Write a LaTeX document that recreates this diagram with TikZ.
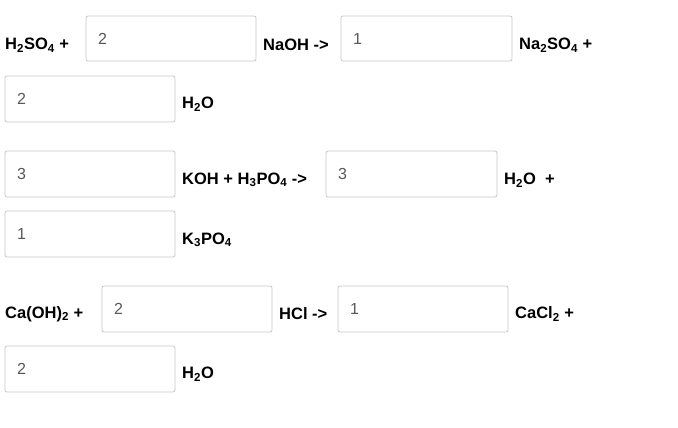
\documentclass[tikz,border=0pt]{standalone}
\usepackage{fontspec}
\setmainfont{Liberation Sans}
\begin{document}
\begin{tikzpicture}[x=1pt,y=-1pt,
  inbox/.style={draw=black!22,line width=0.8pt,rounded corners=2pt},
  num/.style={anchor=west,inner sep=0pt,text=black!65,font=\fontsize{16}{18}\selectfont},
  lab/.style={anchor=west,inner sep=0pt,font=\bfseries\fontsize{16.5}{19}\selectfont}]
\useasboundingbox[fill=white] (0,0) rectangle (678,428);
% row 1
\node[lab] (l1) at (5,45) {H\textsubscript{2}SO\textsubscript{4} +};
\draw[inbox] (86,16) rectangle (256,61);
\node[num] (n1) at (98,39) {2};
\node[lab] (l2) at (263,45) {NaOH ->};
\draw[inbox] (341,16) rectangle (512,61);
\node[num] (n2) at (353,39) {1};
\node[lab] (l3) at (519,45) {Na\textsubscript{2}SO\textsubscript{4} +};
% row 2
\draw[inbox] (5,76) rectangle (175,122);
\node[num] (n3) at (17,99) {2};
\node[lab] (l4) at (182,104) {H\textsubscript{2}O};
% row 3
\draw[inbox] (5,151) rectangle (175,197);
\node[num] (n4) at (17,174) {3};
\node[lab] (l5) at (182,180) {KOH + H\textsubscript{3}PO\textsubscript{4} ->};
\draw[inbox] (326,151) rectangle (497,197);
\node[num] (n5) at (338,174) {3};
\node[lab] (l6) at (504,180) {H\textsubscript{2}O\ \ +};
% row 4
\draw[inbox] (5,211) rectangle (175,257);
\node[num] (n6) at (17,234) {1};
\node[lab] (l7) at (182,240) {K\textsubscript{3}PO\textsubscript{4}};
% row 5
\node[lab] (l8) at (5,314) {Ca(OH)\textsubscript{2} +};
\draw[inbox] (102,286) rectangle (272,332);
\node[num] (n7) at (114,309) {2};
\node[lab] (l9) at (279,314) {HCl ->};
\draw[inbox] (338,286) rectangle (508,332);
\node[num] (n8) at (350,309) {1};
\node[lab] (l10) at (515,314) {CaCl\textsubscript{2} +};
% row 6
\draw[inbox] (5,346) rectangle (175,392);
\node[num] (n9) at (17,369) {2};
\node[lab] (l11) at (182,374) {H\textsubscript{2}O};
\end{tikzpicture}
\end{document}
